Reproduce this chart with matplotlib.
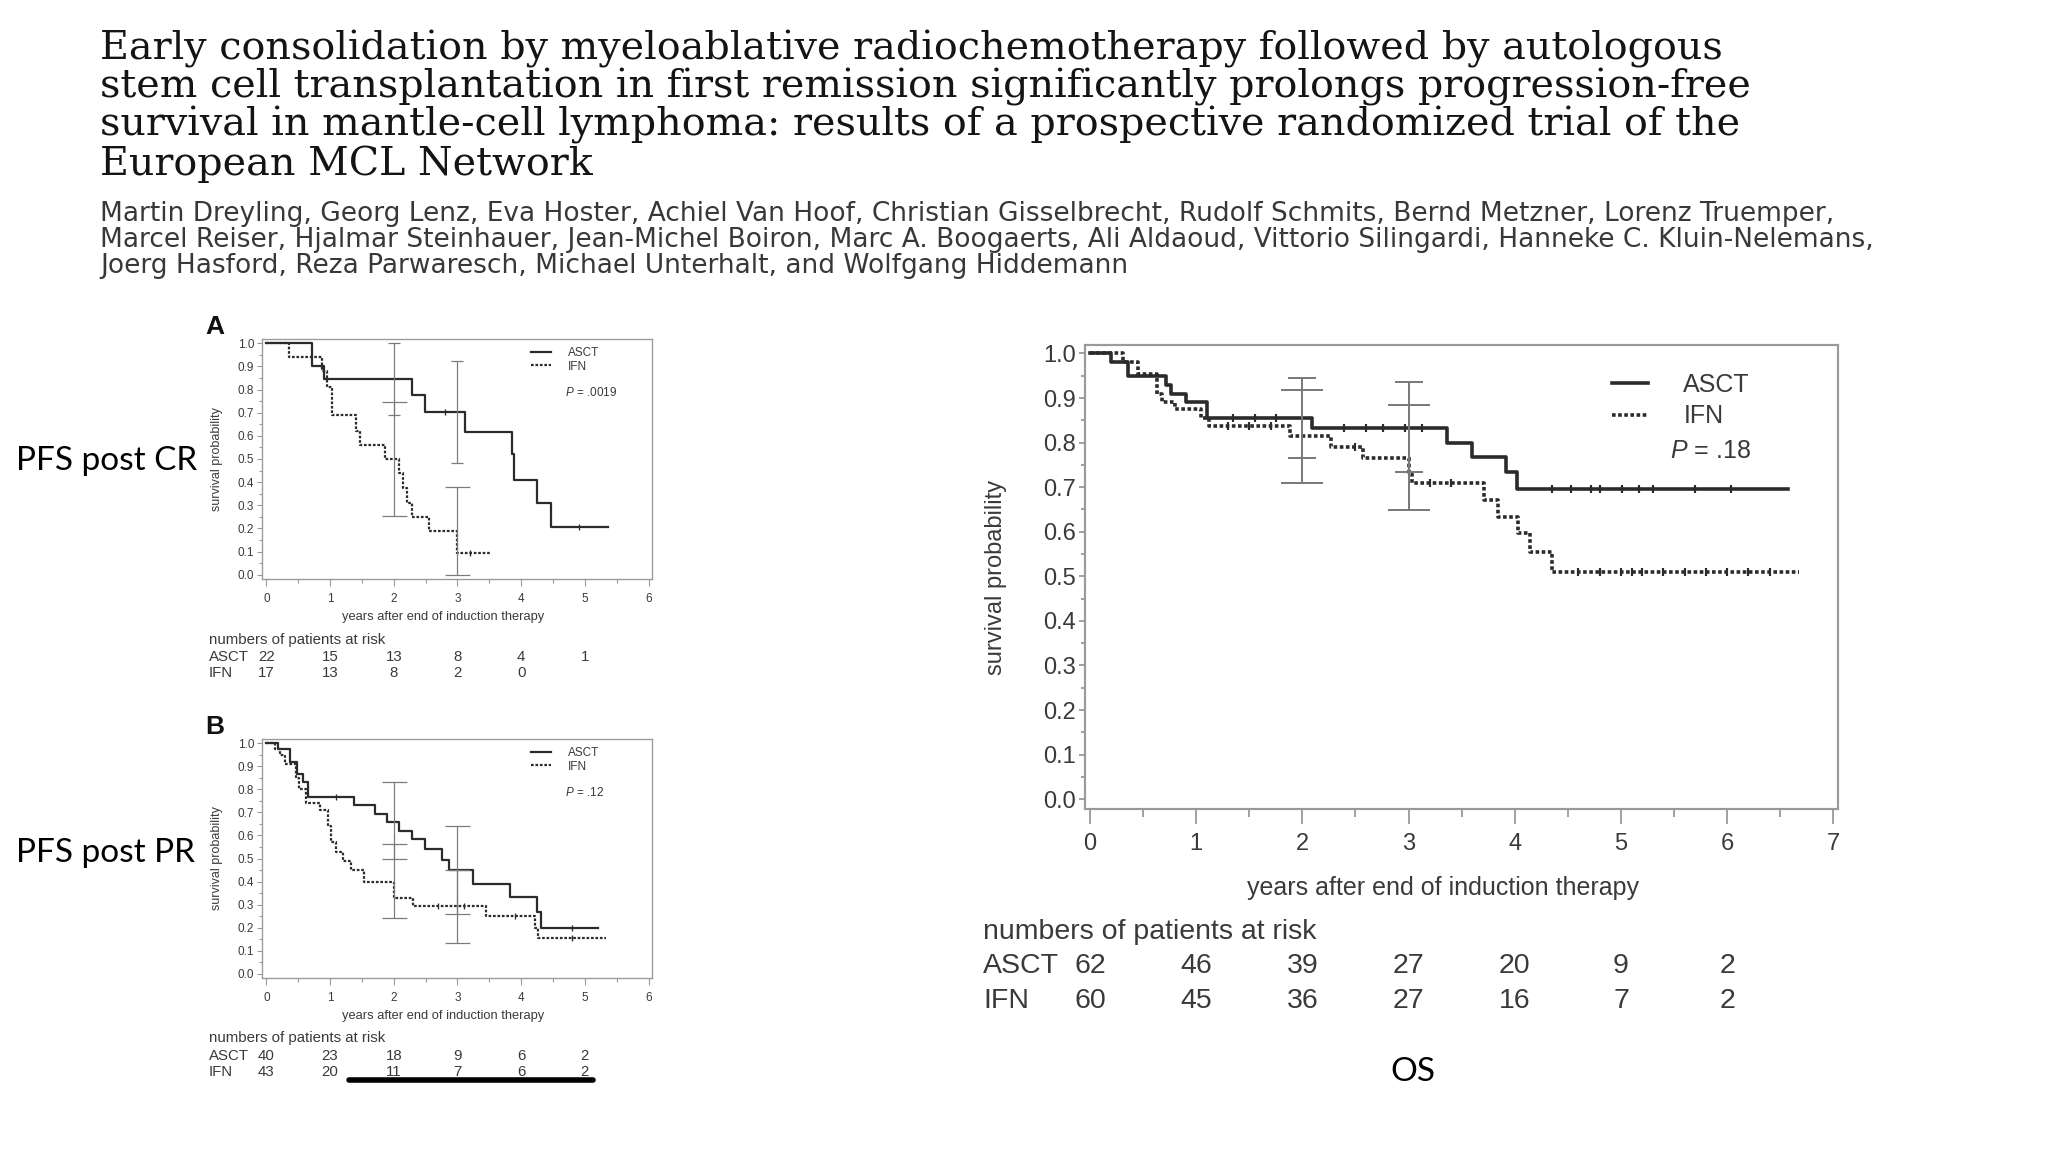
import numpy as np
import matplotlib
matplotlib.use("Agg")
import matplotlib.pyplot as plt
from matplotlib.transforms import blended_transform_factory

plt.rcParams['font.family'] = ['Liberation Sans', 'DejaVu Sans']
plt.rcParams['mathtext.fontset'] = 'custom'
plt.rcParams['mathtext.it'] = 'Liberation Sans:italic'
plt.rcParams['mathtext.rm'] = 'Liberation Sans'

# ---- text ----
title_lines = [
    "Early consolidation by myeloablative radiochemotherapy followed by autologous",
    "stem cell transplantation in first remission significantly prolongs progression-free",
    "survival in mantle-cell lymphoma: results of a prospective randomized trial of the",
    "European MCL Network",
]
author_lines = [
    "Martin Dreyling, Georg Lenz, Eva Hoster, Achiel Van Hoof, Christian Gisselbrecht, Rudolf Schmits, Bernd Metzner, Lorenz Truemper,",
    "Marcel Reiser, Hjalmar Steinhauer, Jean-Michel Boiron, Marc A. Boogaerts, Ali Aldaoud, Vittorio Silingardi, Hanneke C. Kluin-Nelemans,",
    "Joerg Hasford, Reza Parwaresch, Michael Unterhalt, and Wolfgang Hiddemann",
]

# ---- panel A: PFS post CR ----
a_asct_t = [0, 0.72, 0.90, 2.29, 2.49, 3.12, 3.85, 3.88, 4.25, 4.47, 5.37]
a_asct_s = [1.0, 0.90, 0.845, 0.775, 0.705, 0.615, 0.52, 0.41, 0.31, 0.205, 0.205]
a_ifn_t = [0, 0.36, 0.87, 0.95, 1.03, 1.40, 1.47, 1.87, 2.08, 2.15, 2.20, 2.29, 2.55, 2.99, 3.51]
a_ifn_s = [1.0, 0.94, 0.88, 0.81, 0.69, 0.62, 0.56, 0.50, 0.44, 0.375, 0.31, 0.25, 0.19, 0.095, 0.095]
a_asct_cens = [2.8, 4.9]
a_ifn_cens = [3.2]
a_ci_t = [2, 3]
a_asct_lo, a_asct_hi = [0.69, 0.482], [1.0, 0.925]
a_ifn_lo, a_ifn_hi = [0.255, 0.0], [0.745, 0.378]
a_risk_asct = [22, 15, 13, 8, 4, 1]
a_risk_ifn = [17, 13, 8, 2, 0]
a_p = ".0019"

# ---- panel B: PFS post PR ----
b_asct_t = [0, 0.19, 0.37, 0.48, 0.58, 0.66, 1.37, 1.70, 1.89, 2.08, 2.29, 2.49, 2.76, 2.86,
            3.24, 3.83, 4.25, 4.31, 5.2]
b_asct_s = [1.0, 0.975, 0.92, 0.865, 0.83, 0.765, 0.73, 0.695, 0.66, 0.62, 0.585, 0.54, 0.495,
            0.45, 0.39, 0.335, 0.27, 0.20, 0.20]
b_ifn_t = [0, 0.14, 0.22, 0.30, 0.47, 0.52, 0.62, 0.85, 0.97, 1.02, 1.10, 1.20, 1.33, 1.53,
           2.0, 2.3, 3.45, 4.22, 4.27, 5.33]
b_ifn_s = [1.0, 0.975, 0.95, 0.91, 0.85, 0.80, 0.74, 0.71, 0.64, 0.57, 0.53, 0.49, 0.45, 0.40,
           0.33, 0.295, 0.25, 0.20, 0.155, 0.155]
b_asct_cens = [1.1, 4.8]
b_ifn_cens = [2.7, 3.1, 3.9, 4.8]
b_ci_t = [2, 3]
b_asct_lo, b_asct_hi = [0.50, 0.26], [0.83, 0.64]
b_ifn_lo, b_ifn_hi = [0.24, 0.133], [0.565, 0.45]
b_risk_asct = [40, 23, 18, 9, 6, 2]
b_risk_ifn = [43, 20, 11, 7, 6, 2]
b_p = ".12"

# ---- OS ----
os_asct_t = [0, 0.20, 0.36, 0.72, 0.76, 0.90, 1.10, 2.09, 3.36, 3.60, 3.92, 4.02, 6.57]
os_asct_s = [1.0, 0.98, 0.95, 0.93, 0.91, 0.89, 0.855, 0.833, 0.80, 0.767, 0.733, 0.695, 0.695]
os_ifn_t = [0, 0.31, 0.45, 0.63, 0.68, 0.80, 1.05, 1.12, 1.88, 2.27, 2.57, 3.0, 3.03, 3.71,
            3.84, 4.03, 4.14, 4.35, 6.68]
os_ifn_s = [1.0, 0.98, 0.955, 0.91, 0.89, 0.875, 0.855, 0.838, 0.815, 0.79, 0.765, 0.73, 0.71,
            0.672, 0.632, 0.598, 0.555, 0.51, 0.51]
os_asct_cens = [1.35, 1.55, 1.75, 2.39, 2.6, 2.76, 2.97, 3.13, 4.35, 4.53, 4.72, 4.8, 5.01,
                5.17, 5.3, 5.7, 6.04]
os_ifn_cens = [1.3, 1.5, 1.7, 2.5, 3.2, 3.4, 4.6, 4.8, 5.0, 5.1, 5.2, 5.4, 5.6, 5.8, 6.0, 6.2, 6.4]
os_ci_t = [2, 3]
os_asct_lo, os_asct_hi = [0.765, 0.735], [0.945, 0.935]
os_ifn_lo, os_ifn_hi = [0.71, 0.648], [0.918, 0.885]
os_risk_asct = [62, 46, 39, 27, 20, 9, 2]
os_risk_ifn = [60, 45, 36, 27, 16, 7, 2]
os_p = ".18"

W, H = 2048, 1152
fig = plt.figure(figsize=(W / 100, H / 100), dpi=100)
fig.patch.set_facecolor('white')

LINE = '#2b2b2b'
FRAME = '#9a9a9a'
TXT = '#3a3a3a'
CI = '#7a7a7a'


def add_ax(left, top, right, bottom):
    return fig.add_axes([left / W, 1 - bottom / H, (right - left) / W, (bottom - top) / H])


def surv_at(t_list, s_list, x):
    i = np.searchsorted(t_list, x, side='right') - 1
    return np.asarray(s_list)[i]


def km_panel(ax, d, xmax, fs, lw, dot, ms, caps, tick_len, pads):
    ax.step(d['at'], d['as'], where='post', color=LINE, lw=lw, label='ASCT')
    ax.step(d['it'], d['is'], where='post', color=LINE, lw=lw, ls=dot, label='IFN')
    ax.plot(d['ac'], surv_at(d['at'], d['as'], d['ac']), ls='none', marker='|',
            ms=ms, mew=lw * 0.6, color=LINE)
    ax.plot(d['ic'], surv_at(d['it'], d['is'], d['ic']), ls='none', marker='|',
            ms=ms, mew=lw * 0.6, color=LINE)
    for lo, hi, cap in [(d['alo'], d['ahi'], caps[0]), (d['ilo'], d['ihi'], caps[1])]:
        lo, hi = np.array(lo), np.array(hi)
        mid = (lo + hi) / 2
        ax.errorbar(d['ci'], mid, yerr=[mid - lo, hi - mid], fmt='none', ecolor=CI,
                    elinewidth=lw * 0.55, capsize=cap, capthick=lw * 0.55)
    ax.set_xlim(-0.068 * xmax / 6, xmax + 0.053 * xmax / 6)
    ax.set_ylim(-0.018, 1.018)
    ax.set_xticks(np.arange(0, xmax + 1))
    ax.set_xticks(np.arange(0.5, xmax, 1), minor=True)
    ax.set_yticks(np.arange(0, 1.01, 0.1))
    ax.set_yticks(np.arange(0.05, 1.0, 0.1), minor=True)
    ax.set_yticklabels([f"{v:.1f}" for v in np.arange(0, 1.01, 0.1)])
    for sp in ax.spines.values():
        sp.set_color(FRAME)
        sp.set_linewidth(lw * 0.6)
    ax.tick_params(axis='both', which='both', direction='out', color=FRAME,
                   labelcolor=TXT, labelsize=fs, width=lw * 0.5)
    ax.tick_params(axis='y', which='major', length=tick_len[0], pad=pads[0])
    ax.tick_params(axis='y', which='minor', length=tick_len[0] * 0.6)
    ax.tick_params(axis='x', which='major', length=tick_len[1], pad=pads[1])
    ax.tick_params(axis='x', which='minor', length=tick_len[1] * 0.55)


def risk_table(ax, asct, ifn, fs, x_lab, y_rows):
    tr = blended_transform_factory(ax.transData, ax.transAxes)
    ax.text(x_lab, y_rows[0], "numbers of patients at risk", transform=ax.transAxes,
            fontsize=fs, color=TXT, va='center', ha='left')
    for name, vals, y in [("ASCT", asct, y_rows[1]), ("IFN", ifn, y_rows[2])]:
        ax.text(x_lab, y, name, transform=ax.transAxes, fontsize=fs, color=TXT,
                va='center', ha='left')
        for yr, v in enumerate(vals):
            ax.text(yr, y, str(v), transform=tr, fontsize=fs, color=TXT,
                    va='center', ha='center')


# ---------- titles ----------
title_base = [60, 98, 136, 175]
for line, yb in zip(title_lines, title_base):
    fig.text(100 / W, 1 - yb / H, line, family='DejaVu Serif', fontsize=28.5,
             color='#141414', va='baseline', ha='left')
author_base = [221, 247, 273]
for line, yb in zip(author_lines, author_base):
    fig.text(100 / W, 1 - yb / H, line, family='DejaVu Sans', fontsize=19.0,
             color='#383838', va='baseline', ha='left')

# ---------- Panel A ----------
axA = add_ax(262, 339, 652, 579)
dA = {'at': a_asct_t, 'as': a_asct_s, 'it': a_ifn_t, 'is': a_ifn_s, 'ac': a_asct_cens,
      'ic': a_ifn_cens, 'ci': a_ci_t, 'alo': a_asct_lo, 'ahi': a_asct_hi,
      'ilo': a_ifn_lo, 'ihi': a_ifn_hi}
km_panel(axA, dA, 6, 8.5, 1.6, (0, (1.2, 0.8)), 4, (4.5, 9), (3.5, 5), (2, 5))

# ---------- Panel B ----------
axB = add_ax(262, 739, 652, 978)
dB = {'at': b_asct_t, 'as': b_asct_s, 'it': b_ifn_t, 'is': b_ifn_s, 'ac': b_asct_cens,
      'ic': b_ifn_cens, 'ci': b_ci_t, 'alo': b_asct_lo, 'ahi': b_asct_hi,
      'ilo': b_ifn_lo, 'ihi': b_ifn_hi}
km_panel(axB, dB, 6, 8.5, 1.6, (0, (1.2, 0.8)), 4, (9, 9), (3.5, 5), (2, 5))

for ax, p, letter in [(axA, a_p, "A"), (axB, b_p, "B")]:
    ax.set_ylabel("survival probability", fontsize=9, color=TXT)
    ax.yaxis.set_label_coords(-0.10, 0.5)
    ax.set_xlabel("years after end of induction therapy", fontsize=9.3, color=TXT)
    ax.xaxis.set_label_coords(0.465, -0.135)
    leg = ax.legend(loc='upper left', bbox_to_anchor=(0.69, 0.965), frameon=False,
                    fontsize=8.5, handlelength=1.7, handletextpad=1.4, labelspacing=0.1,
                    borderpad=0, borderaxespad=0)
    for t in leg.get_texts():
        t.set_color(TXT)
    ax.text(0.778, 0.775, "$P$ = " + p, transform=ax.transAxes, fontsize=8.5,
            color=TXT, va='center', ha='left')
    ax.text(-0.145, 1.05, letter, transform=ax.transAxes, fontsize=19, fontweight='bold',
            color='#111111', va='center', ha='left')

risk_table(axA, a_risk_asct, a_risk_ifn, 10.8, -0.137, (-0.254, -0.326, -0.393))
risk_table(axB, b_risk_asct, b_risk_ifn, 10.8, -0.137, (-0.252, -0.327, -0.393))

# underline under panel B risk table
trB = blended_transform_factory(axB.transData, axB.transAxes)
axB.plot([1.29, 5.12], [-0.428, -0.428], transform=trB, color='black', lw=4,
         clip_on=False, solid_capstyle='round')

# ---------- OS ----------
axO = add_ax(1085, 345, 1838, 809)
dO = {'at': os_asct_t, 'as': os_asct_s, 'it': os_ifn_t, 'is': os_ifn_s, 'ac': os_asct_cens,
      'ic': os_ifn_cens, 'ci': os_ci_t, 'alo': os_asct_lo, 'ahi': os_asct_hi,
      'ilo': os_ifn_lo, 'ihi': os_ifn_hi}
km_panel(axO, dO, 7, 17, 2.6, (0, (1.0, 0.7)), 6, (10, 15), (4.5, 11), (2, 6))
axO.set_xlim(-0.047, 7.044)
axO.set_ylim(-0.022, 1.019)
axO.set_ylabel("survival probability", fontsize=17, color=TXT)
axO.yaxis.set_label_coords(-0.104, 0.5)
axO.set_xlabel("years after end of induction therapy", fontsize=18, color=TXT)
axO.xaxis.set_label_coords(0.475, -0.145)
leg = axO.legend(loc='upper left', bbox_to_anchor=(0.70, 0.94), frameon=False,
                 fontsize=18, handlelength=1.45, handletextpad=1.4, labelspacing=0.3,
                 borderpad=0, borderaxespad=0)
for t in leg.get_texts():
    t.set_color(TXT)
axO.text(0.777, 0.772, "$P$ = " + os_p, transform=axO.transAxes, fontsize=18,
         color=TXT, va='center', ha='left')
risk_table(axO, os_risk_asct, os_risk_ifn, 20.5, -0.135, (-0.266, -0.339, -0.413))

# ---------- slide labels ----------
fig.text(16 / W, 1 - 461 / H, "PFS post CR", family=['Lato', 'DejaVu Sans'], fontsize=24,
         color='black', va='center', ha='left')
fig.text(16 / W, 1 - 853 / H, "PFS post PR", family=['Lato', 'DejaVu Sans'], fontsize=24,
         color='black', va='center', ha='left')
fig.text(1413 / W, 1 - 1072 / H, "OS", family=['Lato', 'DejaVu Sans'], fontsize=24,
         color='black', va='center', ha='center')

fig.savefig("out.png", dpi=100, facecolor='white')
